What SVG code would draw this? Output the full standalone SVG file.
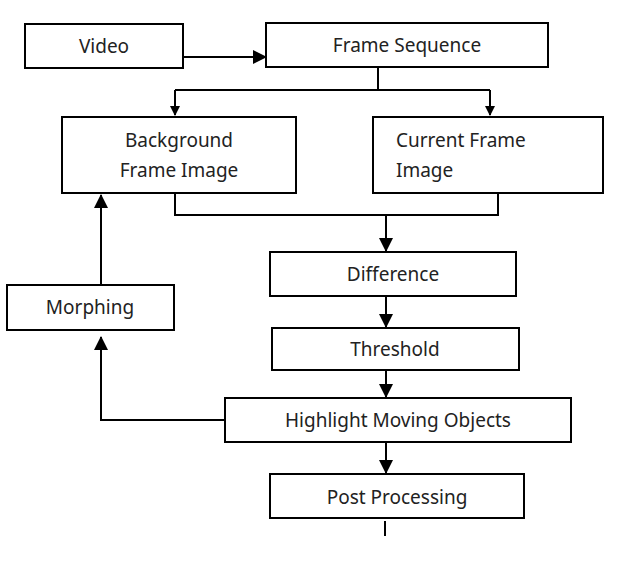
<svg xmlns="http://www.w3.org/2000/svg" width="619" height="585" viewBox="0 0 619 585">
<style>
rect{fill:#fff;stroke:#000;stroke-width:2}
text{font-family:"Noto Sans","Liberation Sans",sans-serif;font-size:19px;fill:#222}
.c{fill:none;stroke:#000;stroke-width:2}
</style>
<defs><marker id="a" markerWidth="10" markerHeight="10" refX="9" refY="5" orient="auto" markerUnits="userSpaceOnUse"><path d="M0,0L10,5L0,10z" fill="#000"/></marker>
<marker id="b" markerWidth="14" markerHeight="14" refX="13" refY="7" orient="auto" markerUnits="userSpaceOnUse"><path d="M0,0L14,7L0,14z" fill="#000"/></marker></defs>
<g id="connectors">
<path class="c" d="M183,57H266" marker-end="url(#b)"/>
<path class="c" d="M378,67V90M175,90H490"/>
<path class="c" d="M175,90V115" marker-end="url(#a)"/>
<path class="c" d="M490,90V115" marker-end="url(#a)"/>
<path class="c" d="M175,193V215H498V193"/>
<path class="c" d="M386,215V251" marker-end="url(#b)"/>
<path class="c" d="M386,296V327" marker-end="url(#b)"/>
<path class="c" d="M386,370V397" marker-end="url(#b)"/>
<path class="c" d="M386,442V473" marker-end="url(#b)"/>
<path class="c" d="M385,521V536"/>
<path class="c" d="M225,420H101V337" marker-end="url(#b)"/>
<path class="c" d="M101,285V195" marker-end="url(#b)"/>
</g>
<g id="video"><rect x="25" y="24" width="158" height="44"/><text x="104" y="53" text-anchor="middle">Video</text></g>
<g id="frameseq"><rect x="266" y="23" width="282" height="44"/><text x="407" y="52" text-anchor="middle">Frame Sequence</text></g>
<g id="background"><rect x="62" y="117" width="234" height="76"/><text x="179" y="147" text-anchor="middle">Background</text><text x="179" y="177" text-anchor="middle">Frame Image</text></g>
<g id="current"><rect x="373" y="117" width="230" height="76"/><text x="396" y="147">Current Frame</text><text x="396" y="177">Image</text></g>
<g id="difference"><rect x="270" y="252" width="246" height="44"/><text x="393" y="281" text-anchor="middle">Difference</text></g>
<g id="morphing"><rect x="7" y="285" width="167" height="45"/><text x="90" y="314" text-anchor="middle">Morphing</text></g>
<g id="threshold"><rect x="272" y="328" width="247" height="42"/><text x="395" y="356" text-anchor="middle">Threshold</text></g>
<g id="highlight"><rect x="225" y="398" width="346" height="44"/><text x="398" y="427" text-anchor="middle">Highlight Moving Objects</text></g>
<g id="post"><rect x="270" y="474" width="254" height="44"/><text x="397" y="504" text-anchor="middle">Post Processing</text></g>
</svg>
